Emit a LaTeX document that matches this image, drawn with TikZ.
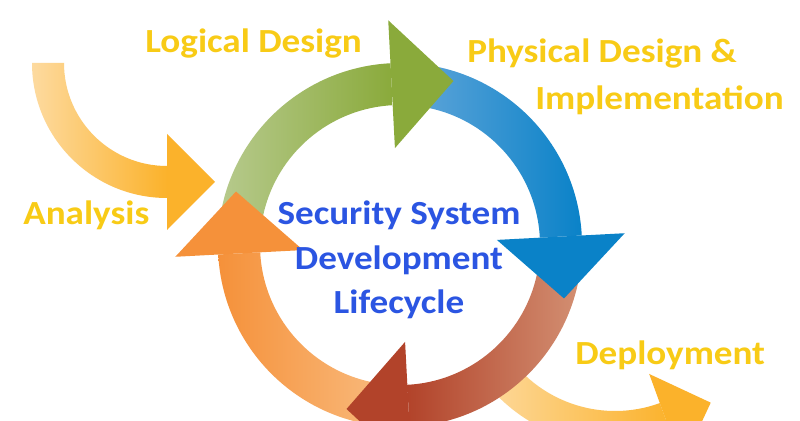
\documentclass[tikz,border=0pt]{standalone}
\usepackage{fontspec}
\setmainfont{Carlito}[FakeStretch=1.1]

\definecolor{labelyellow}{HTML}{F8CB16}
\definecolor{titleblue}{HTML}{2B55E2}
\definecolor{greenlight}{HTML}{B7CA8E}
\definecolor{greendark}{HTML}{8AAA3B}
\definecolor{bluelight}{HTML}{62A6DA}
\definecolor{bluedark}{HTML}{0A82C8}
\definecolor{redlight}{HTML}{D39073}
\definecolor{reddark}{HTML}{B2432A}
\definecolor{orangelight}{HTML}{F9BC80}
\definecolor{orangedark}{HTML}{F5913A}
\definecolor{feedlight}{HTML}{FDDA9F}
\definecolor{feeddark}{HTML}{FBB22B}

\tikzset{
  phase/.style={font=\fontsize{24}{30}\selectfont\bfseries, text=labelyellow,
    inner sep=0pt, anchor=base west},
  cycletitle/.style={font=\fontsize{24}{31.7}\selectfont\bfseries, text=titleblue,
    inner sep=0pt, align=center},
}

% ring segment: start angle, end angle, left colour, right colour
\newcommand{\ringbody}[4]{%
  \shade[left color=#3, right color=#4] (#1:182) arc[start angle=#1, end angle=#2, radius=182]
    -- (#2:140) arc[start angle=#2, end angle=#1, radius=140] -- cycle;}
% ring arrow head: angle of its base, colour
\newcommand{\ringhead}[2]{%
  \fill[#2] (#1:97) -- (#1:225) -- ({#1-21.06}:172.5) -- cycle;}

\begin{document}
\begin{tikzpicture}[x=0.025cm, y=0.025cm]
  \useasboundingbox (0,0) rectangle (800,420);
  \fill[white] (0,0) rectangle (800,420);
  \clip (0,0) rectangle (800,420);

  % incoming arrow
  \begin{scope}[shift={(167,357)}]
    \shade[left color=feedlight, right color=feeddark] (180:135) arc[start angle=180, end angle=270, radius=135]
      -- (270:103) arc[start angle=270, end angle=180, radius=103] -- cycle;
    \fill[feeddark] (270:71) -- (270:167) -- (291.97:128.3) -- cycle;
  \end{scope}

  % outgoing arrow, under the ring
  \begin{scope}[shift={(615,140)}]
    \shade[left color=feedlight, right color=feeddark] (215:165) arc[start angle=215, end angle=290, radius=165]
      -- (290:131) arc[start angle=290, end angle=215, radius=131] -- cycle;
    \fill[feeddark] (290:100) -- (290:196) -- (307.97:155.6) -- cycle;
  \end{scope}

  % the cycle
  \begin{scope}[shift={(400,175)}]
    \ringbody{178}{93}{greenlight}{greendark}
    \ringbody{88}{3}{bluelight}{bluedark}
    \ringbody{-2}{-87}{reddark}{redlight}
    \ringbody{268}{183}{orangedark}{orangelight}
    \ringhead{93}{greendark}
    \ringhead{3}{bluedark}
    \ringhead{-87}{reddark}
    \ringhead{183}{orangedark}
  \end{scope}

  \node[phase] (logical) at (145,367) {Logical Design};
  \node[phase] (physical) at (467,357) {Physical Design \&};
  \node[phase] (implementation) at (535,310) {Implementation};
  \node[phase] (analysis) at (23,195) {Analysis};
  \node[phase] (deployment) at (575,55) {Deployment};

  \node[cycletitle] (lifecycle) at (399,160) {Security System\\Development\\Lifecycle};
\end{tikzpicture}
\end{document}
